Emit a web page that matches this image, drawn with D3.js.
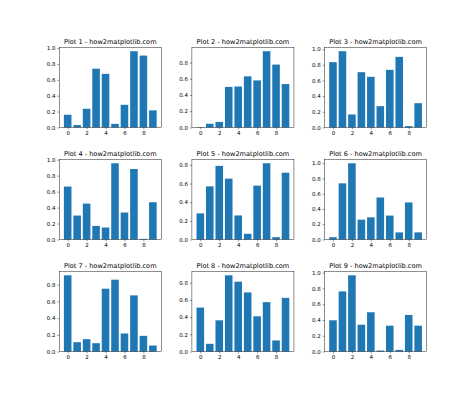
<!DOCTYPE html>
<html>
<head>
<meta charset="utf-8">
<script src="https://cdn.jsdelivr.net/npm/d3@7"></script>
<style>
  body { margin: 0; background: #fff; }
  text { font-family: "DejaVu Sans", sans-serif; fill: #000; }
</style>
</head>
<body>
<script>
// values, one array per subplot
var plot1 = [0.16, 0.03, 0.235, 0.74, 0.675, 0.045, 0.285, 0.96, 0.905, 0.215];
var plot2 = [0.004, 0.045, 0.068, 0.50, 0.505, 0.63, 0.58, 0.94, 0.775, 0.535];
var plot3 = [0.834, 0.974, 0.166, 0.706, 0.647, 0.272, 0.736, 0.902, 0.017, 0.31];
var plot4 = [0.663, 0.30, 0.45, 0.17, 0.15, 0.955, 0.338, 0.883, 0.008, 0.467];
var plot5 = [0.28, 0.57, 0.79, 0.653, 0.258, 0.061, 0.578, 0.818, 0.025, 0.717];
var plot6 = [0.03, 0.735, 0.998, 0.26, 0.29, 0.55, 0.313, 0.093, 0.485, 0.093];
var plot7 = [0.912, 0.112, 0.148, 0.10, 0.752, 0.86, 0.216, 0.672, 0.188, 0.072];
var plot8 = [0.511, 0.09, 0.363, 0.886, 0.812, 0.687, 0.41, 0.574, 0.129, 0.624];
var plot9 = [0.396, 0.762, 0.966, 0.34, 0.498, 0.013, 0.328, 0.021, 0.464, 0.328];

var categories = [0, 1, 2, 3, 4, 5, 6, 7, 8, 9];
var xTicks = [0, 2, 4, 6, 8];
var yTicks = [0, 0.2, 0.4, 0.6, 0.8, 1.0];
var titles = ['Plot 1 - how2matplotlib.com', 'Plot 2 - how2matplotlib.com', 'Plot 3 - how2matplotlib.com',
              'Plot 4 - how2matplotlib.com', 'Plot 5 - how2matplotlib.com', 'Plot 6 - how2matplotlib.com',
              'Plot 7 - how2matplotlib.com', 'Plot 8 - how2matplotlib.com', 'Plot 9 - how2matplotlib.com'];
var series = [plot1, plot2, plot3, plot4, plot5, plot6, plot7, plot8, plot9];

var W = 474, H = 395;
// figure fractions like subplots_adjust(left=.125, right=.9, bottom=.11, top=.88, wspace=.3, hspace=.4)
var figL = 0.125 * W, figR = 0.9 * W, figT = 0.12 * H, figB = 0.89 * H;
var aw = (figR - figL) / (3 + 2 * 0.3);
var ah = (figB - figT) / (3 + 2 * 0.4);
var pt = 0.5486; // px per point
var barWidth = 0.8;

var svg = d3.select('body').append('svg')
  .attr('width', W)
  .attr('height', H);

series.forEach(function(values, i) {
  var col = i % 3, row = Math.floor(i / 3);
  var left = figL + col * aw * 1.3;
  var top = figT + row * ah * 1.4;

  var ymax = d3.max(values) * 1.05;
  var x = d3.scaleLinear().domain([-0.4 - 0.49, 9.4 + 0.49]).range([0, aw]);
  var y = d3.scaleLinear().domain([0, ymax]).range([ah, 0]);

  var g = svg.append('g').attr('transform', 'translate(' + left + ',' + top + ')');

  g.selectAll('rect.bar').data(values)
    .enter()
    .append('rect')
    .attr('class', 'bar')
    .attr('x', function(d, j) { return x(categories[j] - barWidth / 2); })
    .attr('width', function(d, j) { return x(categories[j] + barWidth / 2) - x(categories[j] - barWidth / 2); })
    .attr('y', function(d) { return y(d); })
    .attr('height', function(d) { return ah - y(d); })
    .attr('fill', '#1f77b4');

  var tickLen = 3.5 * pt, tickPad = 3.5 * pt;

  var xAxis = d3.axisBottom(x).tickValues(xTicks).tickFormat(d3.format('d'))
    .tickSizeInner(tickLen).tickSizeOuter(0).tickPadding(tickPad);
  var yAxis = d3.axisLeft(y).tickValues(yTicks.filter(function(t) { return t <= ymax + 1e-9; }))
    .tickFormat(d3.format('.1f'))
    .tickSizeInner(tickLen).tickSizeOuter(0).tickPadding(tickPad);

  var gx = g.append('g').attr('transform', 'translate(0,' + ah + ')').call(xAxis);
  var gy = g.append('g').call(yAxis);
  [gx, gy].forEach(function(a) {
    a.select('.domain').remove();
    a.selectAll('line').attr('stroke', '#000').attr('stroke-width', 0.8 * pt);
    a.selectAll('text').style('font-size', (10 * pt) + 'px');
  });

  // spines
  g.append('rect')
    .attr('width', aw)
    .attr('height', ah)
    .attr('fill', 'none')
    .attr('stroke', '#000')
    .attr('stroke-width', 0.8 * pt);

  g.append('text')
    .attr('x', aw / 2)
    .attr('y', -6 * pt)
    .attr('text-anchor', 'middle')
    .style('font-size', (12 * pt) + 'px')
    .text(titles[i]);
});
</script>
</body>
</html>
